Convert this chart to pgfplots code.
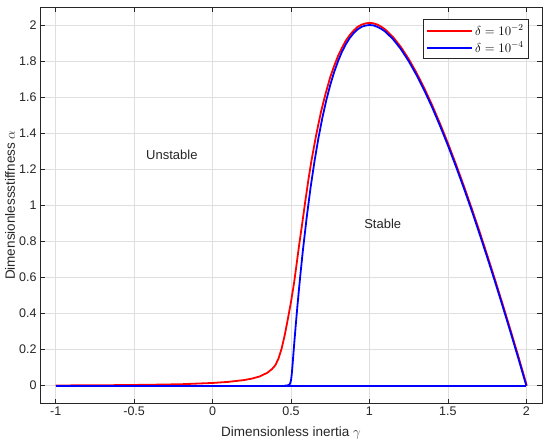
\RequirePackage{fix-cm}
\documentclass[border=0pt]{standalone}
\usepackage{fontspec}
\setmainfont{Liberation Sans}
\usepackage{pgfplots}
\pgfplotsset{compat=1.18}
\definecolor{axgray}{RGB}{38,38,38}
\definecolor{gridgray}{RGB}{223,223,223}
\begin{document}
\begin{tikzpicture}
\begin{axis}[
  scale only axis, width=502pt, height=396.7pt,
  xmin=-1.1, xmax=2.1, ymin=-0.1, ymax=2.1,
  xtick={-1,-0.5,0,0.5,1,1.5,2},
  ytick={0,0.2,0.4,0.6,0.8,1,1.2,1.4,1.6,1.8,2},
  tick align=inside, major tick length=5pt,
  axis line style={axgray, line width=0.8pt},
  tick style={axgray, line width=0.6pt},
  grid=major, major grid style={gridgray, line width=0.6pt},
  /pgf/number format/assume math mode=true,
  tick label style={font=\fontsize{12.5}{14}\selectfont, text=axgray},
  xlabel={Dimensionless inertia $\gamma$},
  ylabel={Dimensionlessstiffness $\alpha$},
  label style={font=\fontsize{13.5}{15}\selectfont, text=axgray},
  xlabel style={at={(axis description cs:0.5,-0.0839)}, anchor=base},
  ylabel style={at={(axis description cs:-0.0498,0.5)}, anchor=base},
  legend style={at={(0.974,0.969)}, anchor=north east, draw=axgray, line width=0.6pt,
    fill=white, font=\fontsize{13}{15}\selectfont, inner xsep=3pt, inner ysep=3pt,
    row sep=1pt},
  legend cell align=left,
  legend image code/.code={\draw[#1] (0pt,0pt) -- (45pt,0pt);},
]
\addlegendimage{red, line width=1.8pt}
\addlegendentry{$\delta=10^{-2}$}
\addlegendimage{blue, line width=1.8pt}
\addlegendentry{$\delta=10^{-4}$}
\addplot[red, line width=1.8pt, forget plot] coordinates {
(-1,0.001) (-0.8,0.002) (-0.6,0.003) (-0.4,0.005) (-0.2,0.008) (0,0.015)
(0.1,0.021) (0.2,0.031) (0.25,0.039) (0.3,0.051) (0.35,0.072) (0.38,0.093)
(0.40,0.113) (0.42,0.150) (0.44,0.205) (0.46,0.280) (0.48,0.370) (0.50,0.465)
(0.51,0.518) (0.52,0.573) (0.535,0.669) (0.55,0.768) (0.57,0.890) (0.59,1.016)
(0.61,1.137) (0.63,1.246) (0.66,1.388) (0.69,1.514) (0.72,1.618) (0.75,1.711)
(0.775,1.773) (0.8,1.829) (0.825,1.874) (0.85,1.914) (0.875,1.945) (0.9,1.970)
(0.925,1.990) (0.95,2.002) (0.975,2.009) (1.0,2.012) (1.025,2.0096) (1.05,2.0025)
(1.075,1.991) (1.1,1.9756) (1.15,1.9337) (1.2,1.8787) (1.25,1.812) (1.3,1.735)
(1.35,1.649) (1.4,1.555) (1.45,1.453) (1.5,1.345) (1.55,1.231) (1.6,1.112)
(1.65,0.988) (1.7,0.859) (1.75,0.726) (1.8,0.589) (1.85,0.449) (1.9,0.306)
(1.95,0.160) (2.003,0)
};
\addplot[blue, line width=1.8pt, forget plot] coordinates {
(0.46,0) (0.47,0.0005) (0.48,0.002) (0.49,0.006) (0.495,0.014) (0.5,0.03)
(0.505,0.065) (0.51,0.117) (0.52,0.228) (0.53,0.333) (0.54,0.433) (0.55,0.527)
(0.56,0.617) (0.575,0.744) (0.6,0.933) (0.625,1.1) (0.65,1.246) (0.675,1.374)
(0.7,1.486) (0.725,1.583) (0.75,1.667) (0.775,1.739) (0.8,1.8) (0.825,1.852)
(0.85,1.894) (0.875,1.929) (0.9,1.956) (0.925,1.976) (0.95,1.990) (0.975,1.997)
(1.0,2.0) (1.025,1.998) (1.05,1.990) (1.075,1.979) (1.1,1.964) (1.15,1.922)
(1.2,1.867) (1.25,1.8) (1.3,1.723) (1.35,1.637) (1.4,1.543) (1.45,1.441)
(1.5,1.333) (1.55,1.219) (1.6,1.1) (1.65,0.976) (1.7,0.847) (1.75,0.714)
(1.8,0.578) (1.85,0.438) (1.9,0.295) (1.95,0.149) (2.0,0)
};
\addplot[blue, line width=1.8pt, forget plot] coordinates {(-1,0) (2,0)};
\node[anchor=base west, inner sep=0pt, font=\fontsize{13}{15}\selectfont, text=axgray] at (axis cs:-0.424,1.257) {Unstable};
\node[anchor=base west, inner sep=0pt, font=\fontsize{13}{15}\selectfont, text=axgray] at (axis cs:0.966,0.873) {Stable};
\end{axis}
\pgfresetboundingbox
\path ([xshift=-40pt,yshift=-39.3pt]current axis.south west) rectangle ([xshift=8pt,yshift=7pt]current axis.north east);
\end{tikzpicture}
\end{document}
